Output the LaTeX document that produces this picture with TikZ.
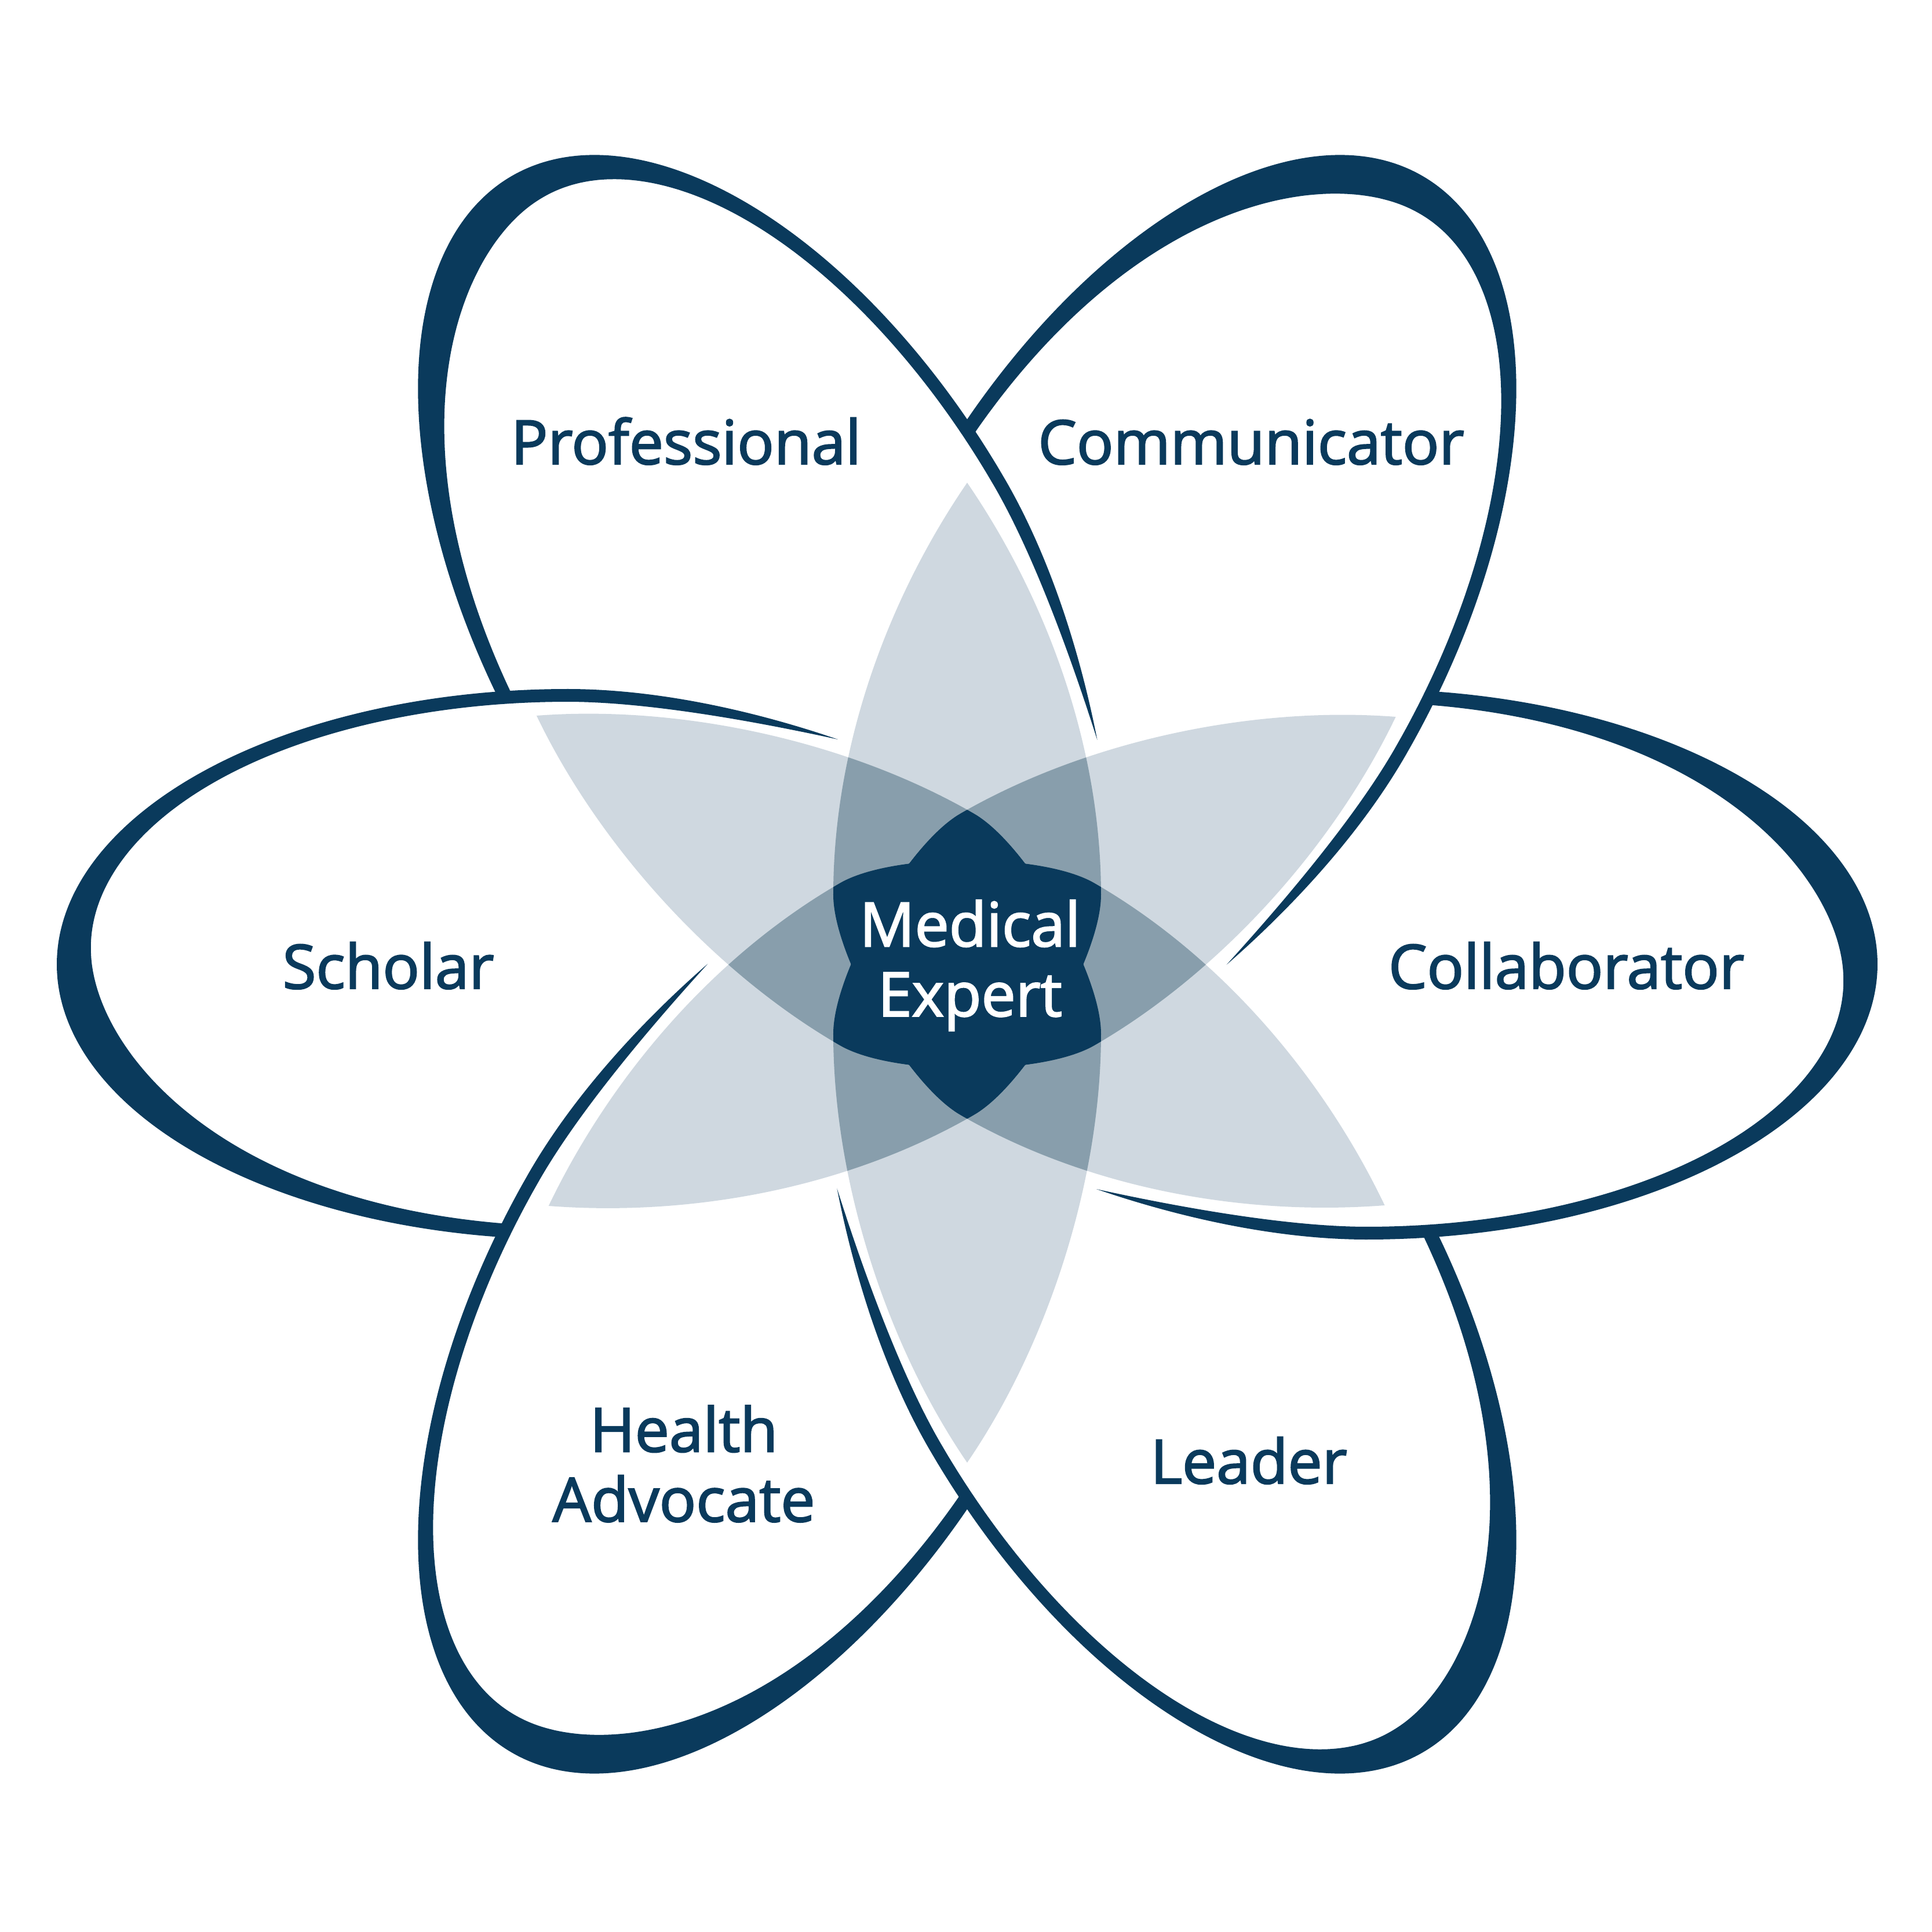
\documentclass[tikz,border=0pt]{standalone}
\usepackage{fontspec}
\newfontfamily\lblfont{Open Sans}[FakeBold=2.2]
\definecolor{navy}{HTML}{0A3A5C}
\definecolor{petallight}{HTML}{CFD8E0}
\definecolor{petalmid}{HTML}{889EAC}
% one shaded petal, tip at (#1,0)
\newcommand{\petal}[1]{(#1,0) .. controls ({#1-2.06},1.41) and (3.7,2.31) .. (1.2,2.31) .. controls (0,2.31) and (-2.55,0.7) .. (-2.55,0) .. controls (-2.55,-0.7) and (0,-2.31) .. (1.2,-2.31) .. controls (3.7,-2.31) and ({#1-2.06},-1.41) .. cycle}
\newcommand{\tiplen}[2]{\pgfmathsetmacro#1{{8.54,8.31,8.58,8.34,8.60,8.32}[#2]}}
% one loop stroke (left half of the horizontal ring)
\newcommand{\lobe}{(-2.23,3.88) .. controls (-3.6,4.35) and (-5.3,4.75) .. (-6.9,4.75)
  -- plot[domain=90:262.5] ({-6.9+8.81*cos(\x)}, {4.75*sin(\x)})
  -- plot[domain=263.5:90] ({-6.9+8.81*cos(\x)-thk(\x)*cos(\x)/(8.81*nrm(\x))}, {4.75*sin(\x)-thk(\x)*sin(\x)/(4.75*nrm(\x))})
  .. controls (-5.5,4.53) and (-3.6,4.18) .. (-2.23,3.88) -- cycle}
\tikzset{
  declare function={thk(\t)=0.22+0.45*exp(-((\t-195)/38)^2); nrm(\t)=sqrt((cos(\t)/8.81)^2+(sin(\t)/4.75)^2);},
  lbl/.style={text=navy, inner sep=0pt, align=center, font=\lblfont\fontsize{30}{34.3}\selectfont}}
\begin{document}
\begin{tikzpicture}
\useasboundingbox (-16.69,-16.70) rectangle (16.65,16.64);
% petals
\foreach \i in {0,...,5}{
  \tiplen\la\i
  \fill[petallight, rotate=30+60*\i] \petal{\la};}
% where two petals overlap
\foreach \i in {0,...,4}{
  \pgfmathtruncatemacro\ii{\i+1}
  \foreach \j in {\ii,...,5}{
    \tiplen\la\i \tiplen\lb\j
    \begin{scope}
      \clip[rotate=30+60*\i] \petal{\la};
      \fill[petalmid, rotate=30+60*\j] \petal{\lb};
    \end{scope}}}
% where three petals overlap
\foreach \i in {0,...,3}{
  \pgfmathtruncatemacro\ii{\i+1}
  \foreach \j in {\ii,...,4}{
    \pgfmathtruncatemacro\jj{\j+1}
    \foreach \k in {\jj,...,5}{
      \tiplen\la\i \tiplen\lb\j \tiplen\lc\k
      \begin{scope}
        \clip[rotate=30+60*\i] \petal{\la};
        \clip[rotate=30+60*\j] \petal{\lb};
        \fill[navy, rotate=30+60*\k] \petal{\lc};
      \end{scope}}}}
% the three rings, drawn as six strokes
\foreach \a in {0,60,...,300} \fill[navy, rotate=\a, samples=90, smooth] \lobe;
% labels
\node[lbl, anchor=base] (prof) at (-4.85,8.63) {Professional};
\node[lbl, anchor=base] (comm) at (4.90,8.63) {Communicator};
\node[lbl, anchor=base] (schol) at (-9.99,-0.42) {Scholar};
\node[lbl, anchor=base] (collab) at (10.34,-0.42) {Collaborator};
\node[lbl, anchor=base] (lead) at (4.86,-8.96) {Leader};
\node[lbl] (health) at (-4.89,-8.62) {Health\\Advocate};
\node[lbl, text=white] (med) at (0.05,-0.02) {Medical\\Expert};
\end{tikzpicture}
\end{document}
